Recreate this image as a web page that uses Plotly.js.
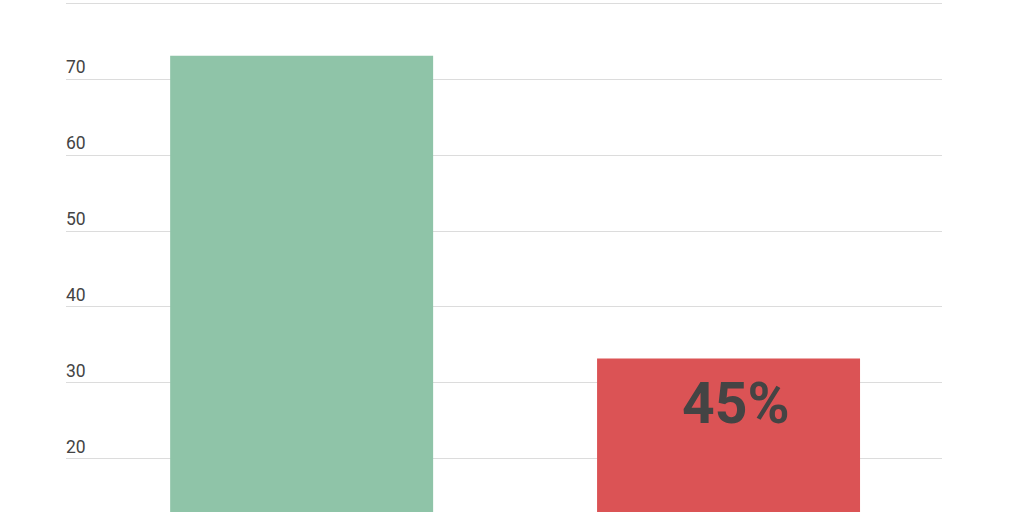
<!DOCTYPE html>
<html>
<head>
<meta charset="utf-8">
<script src="https://cdn.plot.ly/plotly-3.0.1.min.js"></script>
<style>html,body{margin:0;padding:0;background:#fff;}#chart{width:1024px;height:512px;}</style>
</head>
<body>
<div id="chart"></div>
<script>
const categories = ["A", "B"];
const values = [73.1, 33.2];
const barColors = ["#8FC4A8", "#DB5355"];
const labelText = "45%";
const tickVals = [10, 20, 30, 40, 50, 60, 70, 80];

const trace = {
  type: "bar",
  x: categories,
  y: values,
  marker: { color: barColors, line: { width: 0 } },
  hoverinfo: "none"
};

const layout = {
  width: 1024,
  height: 512,
  margin: { l: 66, r: 82, t: 0, b: 0, pad: 0 },
  paper_bgcolor: "#ffffff",
  plot_bgcolor: "#ffffff",
  showlegend: false,
  bargap: 0.384,
  font: { family: "Roboto, sans-serif", color: "#444444" },
  xaxis: {
    type: "category",
    range: [-0.552, 1.5],
    showticklabels: false,
    showgrid: false,
    zeroline: false,
    showline: false,
    ticks: ""
  },
  yaxis: {
    range: [12.97, 80.45],
    tickvals: tickVals,
    ticktext: tickVals.map(String),
    ticklabelposition: "inside top",
    ticklabelstandoff: -3,
    tickfont: { size: 17.5, color: "#444444", family: "Roboto, sans-serif" },
    showgrid: true,
    gridcolor: "#dcdcdc",
    gridwidth: 1,
    zeroline: false,
    showline: false,
    ticks: ""
  },
  annotations: [{
    x: categories[1],
    y: values[1],
    xref: "x",
    yref: "y",
    text: "<b>" + labelText + "</b>",
    showarrow: false,
    yanchor: "top",
    xanchor: "center",
    xshift: 7,
    yshift: -9,
    font: { size: 57, color: "#444444", family: "Roboto, sans-serif" }
  }]
};

Plotly.newPlot("chart", [trace], layout, { staticPlot: true, displayModeBar: false });
</script>
</body>
</html>
